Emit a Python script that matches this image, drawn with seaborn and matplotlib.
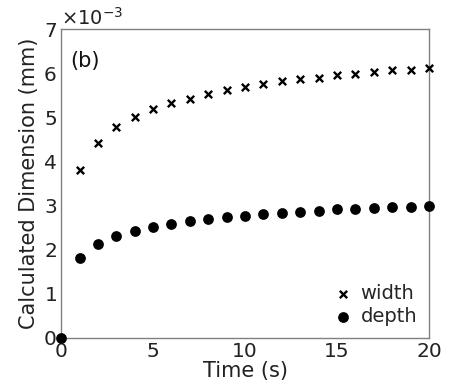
import numpy as np
import pandas as pd
import matplotlib
matplotlib.use("Agg")
import matplotlib.pyplot as plt
import seaborn as sns
from matplotlib.ticker import ScalarFormatter

# time points (s)
time_width = [1, 2, 3, 4, 5, 6, 7, 8, 9, 10, 11, 12, 13, 14, 15, 16, 17, 18, 19, 20]
time_depth = [0, 1, 2, 3, 4, 5, 6, 7, 8, 9, 10, 11, 12, 13, 14, 15, 16, 17, 18, 19, 20]

# calculated dimensions (mm)
width_mm = [3.81e-3, 4.42e-3, 4.77e-3, 5.00e-3, 5.18e-3, 5.32e-3, 5.42e-3, 5.53e-3,
            5.61e-3, 5.68e-3, 5.75e-3, 5.82e-3, 5.86e-3, 5.90e-3, 5.95e-3, 5.99e-3,
            6.02e-3, 6.06e-3, 6.08e-3, 6.11e-3]
depth_mm = [0.0, 1.82e-3, 2.13e-3, 2.30e-3, 2.43e-3, 2.52e-3, 2.59e-3, 2.65e-3,
            2.70e-3, 2.74e-3, 2.77e-3, 2.80e-3, 2.84e-3, 2.86e-3, 2.88e-3, 2.91e-3,
            2.93e-3, 2.95e-3, 2.97e-3, 2.97e-3, 2.98e-3]

df_w = pd.DataFrame({"time": time_width, "dim": width_mm})
df_d = pd.DataFrame({"time": time_depth, "dim": depth_mm})

sns.set_theme(style="white")
plt.rcParams['font.family'] = ['DejaVu Sans']

fig = plt.figure(figsize=(4.74, 3.92), dpi=100)
ax = fig.add_axes([0.129, 0.138, 0.776, 0.788])

sns.scatterplot(data=df_w, x="time", y="dim", marker="x", color="black", s=28,
                linewidth=1.7, label="width", ax=ax, clip_on=False, zorder=3)
sns.scatterplot(data=df_d, x="time", y="dim", marker="o", color="black", s=60,
                edgecolor="black", linewidth=0, label="depth", ax=ax, clip_on=False, zorder=3)

ax.set_xlim(0, 20)
ax.set_ylim(0, 7e-3)
ax.set_xticks([0, 5, 10, 15, 20])
ax.set_yticks(np.arange(0, 8) * 1e-3)

fmt = ScalarFormatter(useMathText=True)
fmt.set_powerlimits((-3, -3))
ax.yaxis.set_major_formatter(fmt)
ax.yaxis.get_offset_text().set_fontsize(14)
ax.yaxis.get_offset_text().set_color("#333333")

ax.tick_params(axis="both", length=0, labelsize=14.5, colors="#222222", pad=3)
ax.set_xlabel("Time (s)", fontsize=15, color="#222222", labelpad=0)
ax.set_ylabel("Calculated Dimension (mm)", fontsize=15, color="#222222", labelpad=3)

for sp in ax.spines.values():
    sp.set_color("#808080")
    sp.set_linewidth(1.0)

ax.text(0.025, 0.93, "(b)", transform=ax.transAxes, fontsize=15, va="top", ha="left",
        color="#111111")

leg = ax.legend(loc="lower right", frameon=False, fontsize=14, handletextpad=0.3,
                borderaxespad=0.2, labelspacing=0.2, handlelength=1.2)

fig.savefig("out.png", dpi=100)
